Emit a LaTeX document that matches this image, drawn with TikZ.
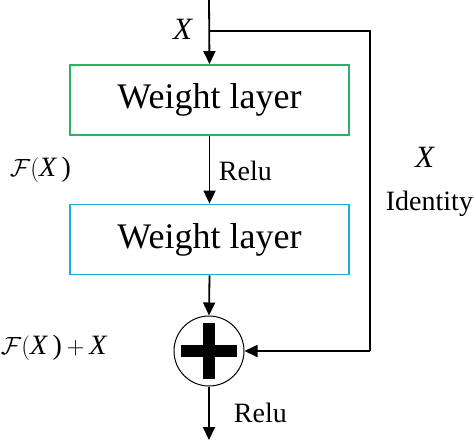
\documentclass[tikz,border=0pt]{standalone}
\usepackage{fontspec}
\setmainfont{Liberation Serif}
\usetikzlibrary{arrows.meta}
\definecolor{boxgreen}{RGB}{40,178,100}
\definecolor{boxcyan}{RGB}{30,172,222}
\begin{document}
\begin{tikzpicture}[x=1pt,y=-1pt,
  line width=1.8pt,
  arr/.style={-{Triangle[length=13pt,width=12pt]}},
  layer/.style={draw, line width=1.8pt, minimum width=279pt, minimum height=70pt, inner sep=0pt,
    font=\fontsize{36}{38}\selectfont},
  lbl/.style={inner sep=0pt, font=\fontsize{28}{30}\selectfont},
  xl/.style={inner sep=0pt, font=\fontsize{31}{33}\selectfont}]
\useasboundingbox (0,0) rectangle (474,440);
\node[layer, draw=boxgreen] (w1) at (209.5,100) {Weight layer};
\node[layer, draw=boxcyan] (w2) at (209.5,239.5) {Weight layer};
\node[draw, circle, line width=1pt, minimum size=70pt, inner sep=0pt] (plus) at (209,351) {};
\fill (plus.center) ++(-28,-6) rectangle ++(56,12);
\fill (plus.center) ++(-6,-28) rectangle ++(12,56);
\coordinate (top) at (209,0);
\coordinate (split) at (209,31);
\coordinate (c1) at (370,31);
\coordinate (c2) at (370,351);
\coordinate (out) at (209,440);
\draw[arr] (top) -- (w1.north);
\draw (split) -- (c1) -- (c2);
\draw[arr] (c2) -- (plus.east);
\draw[arr] (w1.south) -- (w2.north);
\draw[arr] (w2.south) -- (plus.north);
\draw[arr] (plus.south) -- (out);
\node[xl] (x1) at (183,29) {\textit{X}};
\node[lbl, anchor=west] (fx) at (9,170) {$\mathcal{F}($\textit{X}\,)};
\node[lbl, anchor=west] (relu1) at (218,171) {Relu};
\node[xl] (x2) at (425,157) {\textit{X}};
\node[lbl, anchor=west] (ident) at (385,204) {Identity};
\node[lbl, anchor=west] (fxx) at (0,348) {$\mathcal{F}($\textit{X}\,)\,$+$\,\textit{X}};
\node[lbl, anchor=west] (relu2) at (233,413) {Relu};
\end{tikzpicture}
\end{document}
